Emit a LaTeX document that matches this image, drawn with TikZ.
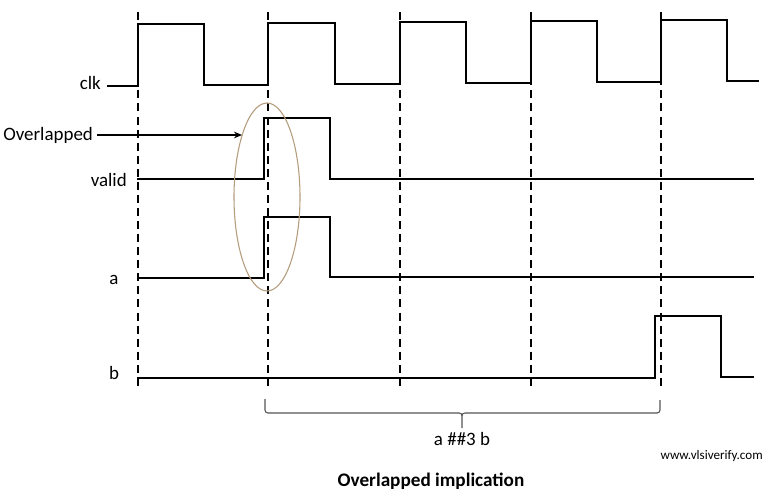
\documentclass[tikz,border=0pt]{standalone}
\usepackage{fontspec}
\setmainfont{Carlito}
\usetikzlibrary{arrows.meta,shapes.geometric}
\definecolor{ellcol}{HTML}{B49C7C}
\definecolor{bracecol}{HTML}{555555}
\tikzset{
  sig/.style={line width=1.4pt, line join=miter},
  clockdash/.style={line width=1.4pt, dash pattern=on 6pt off 3.8pt},
  bracestyle/.style={bracecol, line width=0.8pt, rounded corners=2.2pt},
  lbl/.style={inner sep=0pt, font=\fontsize{14.2pt}{16pt}\selectfont},
  small/.style={inner sep=0pt, font=\fontsize{9.8pt}{11pt}\selectfont},
  ttl/.style={inner sep=0pt, font=\fontsize{14.4pt}{16pt}\selectfont\bfseries},
}
\begin{document}
\begin{tikzpicture}[x=0.75pt,y=-0.75pt]
\useasboundingbox (0,0) rectangle (768,492);
\fill[white] (0,0) rectangle (768,492);

% dashed clock-edge lines
\foreach \xx/\nm in {138/d1,268/d2,400/d3,531/d4,661/d5}{
  \coordinate (\nm t) at (\xx,12);
  \coordinate (\nm b) at (\xx,390);
  \draw[clockdash] (\nm t) -- (\nm b);
}

% labels
\node[lbl, anchor=base east] (clk) at (101,90) {clk};
\node[lbl, anchor=base west] (ov) at (3,141) {Overlapped};
\node[lbl, anchor=base east] (valid) at (127,186) {valid};
\node[lbl, anchor=base] (a) at (114,284) {a};
\node[lbl, anchor=base] (b) at (114,379) {b};

% clock
\draw[sig] (107,86) -- (138,86) -- (138,24) -- (204,24) -- (204,85) -- (268,85)
  -- (268,23) -- (335,23) -- (335,84) -- (400,84) -- (400,22) -- (466,22)
  -- (466,83) -- (531,83) -- (531,21) -- (597,21) -- (597,82) -- (661,82)
  -- (661,20) -- (727,20) -- (727,81) -- (759,81);

% valid
\draw[sig] (137,179) -- (264,179) -- (264,118) -- (330,118) -- (330,179) -- (754,179);

% a
\draw[sig] (137,278) -- (264,278) -- (264,217) -- (330,217) -- (330,277) -- (754,277);

% b
\draw[sig] (137,378) -- (655,378) -- (655,316) -- (721,316) -- (721,377) -- (754,377);

% overlap ellipse
\node[draw=ellcol, line width=0.8pt, ellipse, minimum width=49.5pt, minimum height=141pt, inner sep=0pt] (ell) at (267,197) {};

% arrow
\coordinate (tip) at (242,135);
\draw[line width=1pt, -{Stealth[length=6pt,width=5pt]}] (ov.east |- tip) ++(4,0) -- (tip);

% brace (drawn by hand: flat with small curls)
\coordinate (bl) at (265,399);
\coordinate (br) at (660,400);
\coordinate (bm) at (462,413);
\coordinate (btip) at (462,428);
\draw[bracestyle] (bl) -- (265,413) -- (459,413);
\draw[bracestyle] (br) -- (660,413) -- (465,413);
\draw[bracecol, line width=0.8pt] (459,413) .. controls (461,413) and (462,414) .. (462,416) -- (btip);
\draw[bracecol, line width=0.8pt] (465,413) .. controls (463,413) and (462,414) .. (462,416);
\node[lbl, anchor=base] (expr) at (462,445) {a \#\#3 b};

\node[small, anchor=base east] (web) at (763,459) {www.vlsiverify.com};
\node[ttl, anchor=base] (title) at (431,486) {Overlapped implication};
\end{tikzpicture}
\end{document}
